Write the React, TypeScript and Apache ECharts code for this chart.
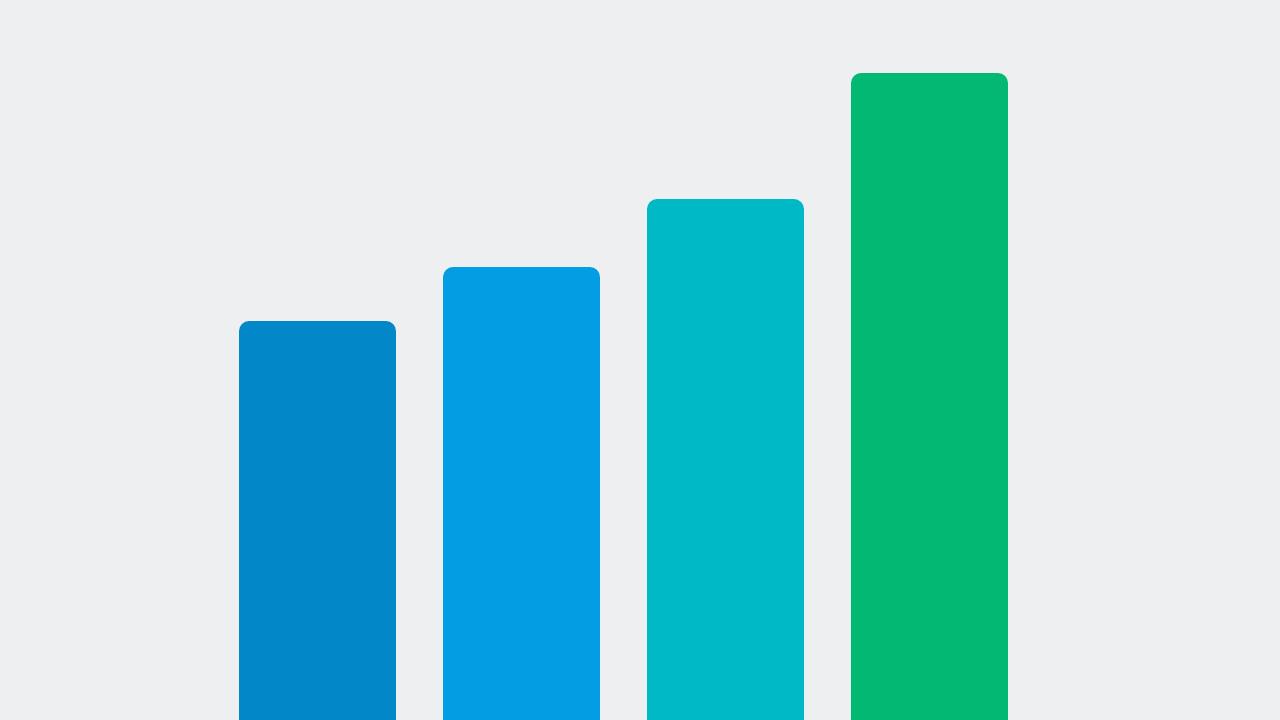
import React, { useEffect, useRef } from "react";
import * as echarts from "echarts";

const categories = ["Q1", "Q2", "Q3", "Q4"];
const values = [399, 453, 521, 647];
const barColors = ["#0288c8", "#039de4", "#00b9c6", "#02b873"];

export default function App() {
  const ref = useRef<HTMLDivElement>(null);
  useEffect(() => {
    document.body.style.margin = "0";
    if (!ref.current) return;
    const chart = echarts.init(ref.current, null, { renderer: "svg" });
    chart.setOption({
      animation: false,
      backgroundColor: "#eeeff0",
      grid: { left: 215.5, width: 816, top: 0, bottom: 0 },
      xAxis: {
        type: "category",
        data: categories,
        axisLine: { show: false },
        axisTick: { show: false },
        axisLabel: { show: false },
      },
      yAxis: {
        type: "value",
        min: 0,
        max: 720,
        show: false,
        splitLine: { show: false },
      },
      series: [
        {
          type: "bar",
          barWidth: 157,
          data: values.map((v, i) => ({
            value: v,
            itemStyle: { color: barColors[i] },
          })),
          itemStyle: { borderRadius: [10, 10, 0, 0] },
        },
      ],
    });
    return () => chart.dispose();
  }, []);
  return <div ref={ref} style={{ width: 1280, height: 720 }} />;
}
